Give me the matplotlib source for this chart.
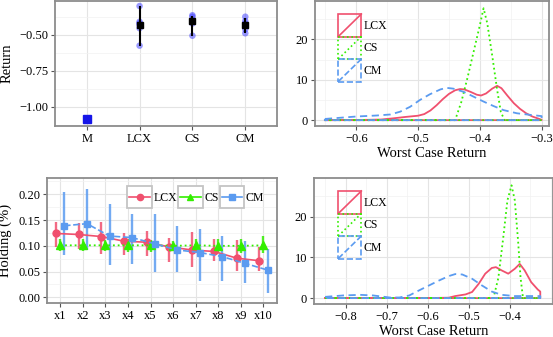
import numpy as np
import matplotlib
matplotlib.use('Agg')
import matplotlib.pyplot as plt
from matplotlib.legend_handler import HandlerBase
from matplotlib.patches import Rectangle
from matplotlib.lines import Line2D
from matplotlib.ticker import MultipleLocator

plt.rcParams['font.family'] = ['Liberation Serif', 'DejaVu Serif']
plt.rcParams['axes.unicode_minus'] = True

# ---------------- data ----------------
# top-left: returns
ret_categories = ['M', 'LCX', 'CS', 'CM']
ret_M = [-1.086]
ret_LCX = [-0.299, -0.408, -0.418, -0.43, -0.453, -0.574]
ret_CS = [-0.363, -0.373, -0.40, -0.41, -0.42, -0.505]
ret_CM = [-0.373, -0.403, -0.42, -0.43, -0.46, -0.488]
ret_mean = [-1.086, -0.431, -0.40, -0.431]
ret_lo = [-1.086, -0.574, -0.505, -0.484]
ret_hi = [-1.086, -0.299, -0.366, -0.384]

# bottom-left: holdings
hold_labels = ['x1', 'x2', 'x3', 'x4', 'x5', 'x6', 'x7', 'x8', 'x9', 'x10']
hold_LCX = [0.124, 0.122, 0.118, 0.109, 0.107, 0.098, 0.092, 0.089, 0.076, 0.071]
hold_LCX_lo = [0.098, 0.093, 0.085, 0.082, 0.080, 0.069, 0.059, 0.070, 0.052, 0.051]
hold_LCX_hi = [0.147, 0.144, 0.146, 0.124, 0.129, 0.116, 0.126, 0.113, 0.111, 0.098]
hold_CS = [0.101, 0.101, 0.101, 0.101, 0.101, 0.100, 0.101, 0.100, 0.100, 0.101]
hold_CS_lo = [0.089, 0.089, 0.089, 0.088, 0.088, 0.089, 0.087, 0.087, 0.087, 0.087]
hold_CS_hi = [0.113, 0.113, 0.112, 0.113, 0.112, 0.110, 0.113, 0.114, 0.114, 0.120]
hold_CM = [0.139, 0.143, 0.119, 0.116, 0.104, 0.092, 0.087, 0.079, 0.066, 0.053]
hold_CM_lo = [0.082, 0.091, 0.063, 0.064, 0.050, 0.049, 0.032, 0.032, 0.027, 0.008]
hold_CM_hi = [0.204, 0.210, 0.182, 0.161, 0.161, 0.138, 0.132, 0.119, 0.109, 0.093]

# top-right: worst case return densities
tr_LCX_x = [-0.651, -0.60, -0.56, -0.54, -0.52, -0.50, -0.49, -0.48, -0.47, -0.46, -0.45, -0.44,
            -0.432, -0.425, -0.415, -0.405, -0.398, -0.39, -0.38, -0.372, -0.365, -0.355, -0.345,
            -0.335, -0.325, -0.315, -0.30]
tr_LCX_y = [0.0, 0.02, 0.15, 0.45, 0.8, 1.1, 1.5, 2.4, 3.7, 5.2, 6.5, 7.4,
            7.7, 7.6, 7.0, 6.3, 6.1, 6.6, 7.8, 8.5, 7.9, 6.0, 4.2,
            2.8, 1.7, 0.9, 0.1]
tr_CS_x = [-0.651, -0.44, -0.43, -0.42, -0.41, -0.40, -0.394, -0.388, -0.38, -0.372, -0.366, -0.36, -0.30]
tr_CS_y = [0.0, 0.0, 4.5, 10.5, 17.0, 23.5, 27.7, 24.0, 16.0, 7.5, 2.0, 0.0, 0.0]
tr_CM_x = [-0.651, -0.621, -0.60, -0.567, -0.545, -0.529, -0.513, -0.497, -0.481, -0.464, -0.454,
           -0.443, -0.426, -0.41, -0.394, -0.378, -0.362, -0.34, -0.318, -0.30]
tr_CM_y = [0.3, 0.65, 0.9, 1.15, 1.4, 2.1, 3.3, 5.0, 6.4, 7.6, 8.0,
           7.8, 7.0, 5.8, 4.6, 3.5, 2.5, 1.7, 1.3, 1.0]

# bottom-right: worst case return densities
br_LCX_x = [-0.85, -0.60, -0.549, -0.533, -0.508, -0.492, -0.476, -0.46, -0.444, -0.434, -0.42,
            -0.404, -0.388, -0.376, -0.364, -0.348, -0.332, -0.326]
br_LCX_y = [0.0, 0.0, 0.1, 0.5, 0.9, 1.5, 3.5, 6.0, 7.4, 7.6, 6.8,
            6.0, 7.2, 8.4, 6.8, 3.9, 2.1, 1.6]
br_CS_x = [-0.85, -0.44, -0.428, -0.416, -0.406, -0.396, -0.388, -0.38, -0.374, -0.368, -0.326]
br_CS_y = [0.0, 0.0, 5.0, 15.0, 24.0, 27.7, 24.0, 14.0, 5.0, 0.0, 0.0]
br_CM_x = [-0.85, -0.806, -0.765, -0.733, -0.693, -0.669, -0.645, -0.621, -0.597, -0.573, -0.549,
           -0.533, -0.516, -0.492, -0.468, -0.444, -0.42, -0.388, -0.356, -0.326]
br_CM_y = [0.3, 0.65, 0.8, 0.65, 0.15, 0.15, 0.65, 1.9, 3.1, 4.3, 5.4,
           5.9, 5.8, 4.75, 3.1, 1.6, 0.8, 0.5, 0.5, 0.5]

series_names = ['LCX', 'CS', 'CM']

# ---------------- style ----------------
RED = '#F0506E'
GREEN = '#33EE00'
BLUE = '#5B9BF0'
FRAME = '#8C8C8C'
GRID = '#E4E4E4'
GRIDMIN = '#F2F2F2'
FS_TICK = 9
FS_LAB = 10.5
FS_LEG = 8.5

W, H = 553, 337
fig = plt.figure(figsize=(W / 100, H / 100), dpi=100)


def px_axes(l, t, r, b):
    return fig.add_axes([l / W, 1 - b / H, (r - l) / W, (b - t) / H])


def hh_for(px):
    # legend handleheight giving a key box of `px` pixels tall
    pt = px * 72 / 100
    return (pt / FS_LEG - 0.245) / 0.65


def style(ax):
    for s in ax.spines.values():
        s.set_color(FRAME)
        s.set_linewidth(1.3)
    ax.tick_params(which='major', direction='out', length=3, width=0.8,
                   color='#555555', labelsize=FS_TICK, pad=2)
    ax.tick_params(which='minor', length=0)
    ax.grid(True, which='major', color=GRID, lw=0.8)
    ax.grid(True, which='minor', color=GRIDMIN, lw=0.5)
    ax.set_axisbelow(True)


class BoxKeyHandler(HandlerBase):
    """Gray box with line + marker (bottom-left legend)."""
    def create_artists(self, legend, orig_handle, xdescent, ydescent, width, height, fontsize, trans):
        rect = Rectangle((-xdescent, -ydescent), width, height, facecolor='white',
                         edgecolor='#C4C4C4', lw=1.3, transform=trans)
        y = -ydescent + height / 2
        line = Line2D([-xdescent + 1.5, -xdescent + width - 1.5], [y, y],
                      color=orig_handle.get_color(), lw=1.2, transform=trans)
        mk = Line2D([-xdescent + width / 2], [y], marker=orig_handle.get_marker(),
                    color=orig_handle.get_color(), ms=4.5, ls='none', transform=trans)
        return [rect, line, mk]


class DensityKeyHandler(HandlerBase):
    """Outlined box with diagonal (density legend)."""
    def create_artists(self, legend, orig_handle, xdescent, ydescent, width, height, fontsize, trans):
        c = orig_handle.get_color()
        ls = orig_handle.get_linestyle()
        x0, y0 = -xdescent, -ydescent
        rect = Rectangle((x0, y0), width, height, facecolor='none', edgecolor=c,
                         lw=1.2, linestyle=ls, transform=trans)
        diag = Line2D([x0, x0 + width], [y0, y0 + height], color=c, lw=1.2,
                      linestyle=ls, transform=trans)
        return [rect, diag]


# ---------------- top-left: Return ----------------
ax1 = px_axes(55, 1, 277, 126)
style(ax1)
pos = np.arange(1, len(ret_categories) + 1)
groups = [ret_M, ret_LCX, ret_CS, ret_CM]
for p, g in zip(pos[1:], groups[1:]):
    ax1.scatter(np.full(len(g), p), g, s=22, color='#3636FF', alpha=0.5,
                edgecolors='none', zorder=3)
ax1.vlines(pos[1:], ret_lo[1:], ret_hi[1:], color='black', lw=1.5, zorder=4)
ax1.plot(pos[1:], ret_mean[1:], 's', color='black', ms=4, zorder=5)
ax1.plot(pos[:1], ret_M, 's', color='#1515E8', ms=5.5, zorder=5)
ax1.set_xlim(0.4, 4.6)
ax1.set_ylim(-1.132, -0.264)
ax1.set_xticks(pos)
ax1.set_xticklabels(ret_categories)
ax1.set_yticks([-1.0, -0.75, -0.5])
ax1.yaxis.set_minor_locator(MultipleLocator(0.125))
ax1.set_ylabel('Return', fontsize=FS_LAB, labelpad=4)

# ---------------- bottom-left: Holding ----------------
ax3 = px_axes(47, 178, 277, 303)
style(ax3)
xi = np.arange(1, len(hold_labels) + 1)
d = 0.18
ax3.vlines(xi - d, hold_LCX_lo, hold_LCX_hi, color=RED, lw=1.7, alpha=0.85, zorder=3)
ax3.vlines(xi, hold_CS_lo, hold_CS_hi, color=GREEN, lw=1.7, alpha=0.85, zorder=3)
ax3.vlines(xi + d, hold_CM_lo, hold_CM_hi, color=BLUE, lw=1.7, alpha=0.85, zorder=3)
h1, = ax3.plot(xi - d, hold_LCX, '-o', color=RED, lw=1.2, ms=5, zorder=4)
h2, = ax3.plot(xi, hold_CS, ':^', color=GREEN, lw=1.3, ms=5.5, zorder=4)
h3, = ax3.plot(xi + d, hold_CM, '--s', color=BLUE, lw=1.2, ms=5, zorder=4)
ax3.set_xlim(0.41, 10.6)
ax3.set_ylim(-0.011, 0.2317)
ax3.set_xticks(xi)
ax3.set_xticklabels(hold_labels)
ax3.set_yticks([0.0, 0.05, 0.10, 0.15, 0.20])
ax3.yaxis.set_minor_locator(MultipleLocator(0.025))
ax3.set_ylabel('Holding (%)', fontsize=FS_LAB, labelpad=4)
hb = BoxKeyHandler()
ax3.legend([h1, h2, h3], series_names, handler_map={h1: hb, h2: hb, h3: hb},
           ncol=3, loc='upper left', bbox_to_anchor=((127.3 - 47) / 230, 1 - (185.7 - 178) / 125),
           fontsize=FS_LEG, frameon=False, borderpad=0, borderaxespad=0,
           handlelength=2.07, handleheight=hh_for(22.5), handletextpad=0.12, columnspacing=0.12)


# ---------------- density panels ----------------
def density_panel(ax, xs_list, ys_list, xlim, ticks, anchor):
    style(ax)
    handles = []
    for xs, ys, c, ls in zip(xs_list, ys_list, [RED, GREEN, BLUE], ['-', ':', '--']):
        xs = list(xs)
        ys = list(ys)
        px = xs + [xs[-1], xs[0], xs[0]]
        py = ys + [0.0, 0.0, ys[0]]
        kw = dict(color=c, lw=1.3, linestyle=ls)
        if ls == '--':
            kw['dashes'] = (4, 2.5)
        h, = ax.plot(px, py, **kw)
        handles.append(h)
    ax.set_xlim(*xlim)
    ax.set_ylim(-1.45, 29.5)
    ax.set_xticks(ticks)
    ax.xaxis.set_minor_locator(MultipleLocator(0.05))
    ax.set_yticks([0, 10, 20])
    ax.yaxis.set_minor_locator(MultipleLocator(5))
    ax.set_xlabel('Worst Case Return', fontsize=FS_LAB, labelpad=1.5)
    hd = DensityKeyHandler()
    ax.legend(handles, series_names, handler_map={h: hd for h in handles},
              loc='upper left', bbox_to_anchor=anchor, fontsize=FS_LEG, frameon=False,
              borderpad=0, borderaxespad=0, handlelength=1.95, handleheight=hh_for(22.5),
              handletextpad=0.2, labelspacing=0)


ax2 = px_axes(315, 1, 549, 126)
density_panel(ax2, [tr_LCX_x, tr_CS_x, tr_CM_x], [tr_LCX_y, tr_CS_y, tr_CM_y],
              (-0.667, -0.288), [-0.6, -0.5, -0.4, -0.3],
              ((338.3 - 315) / 234, 1 - 13 / 125))

ax4 = px_axes(314, 178, 553, 304)
density_panel(ax4, [br_LCX_x, br_CS_x, br_CM_x], [br_LCX_y, br_CS_y, br_CM_y],
              (-0.877, -0.295), [-0.8, -0.7, -0.6, -0.5, -0.4],
              ((338.3 - 314) / 239, 1 - 13 / 126))

fig.savefig('out.png', dpi=100)
